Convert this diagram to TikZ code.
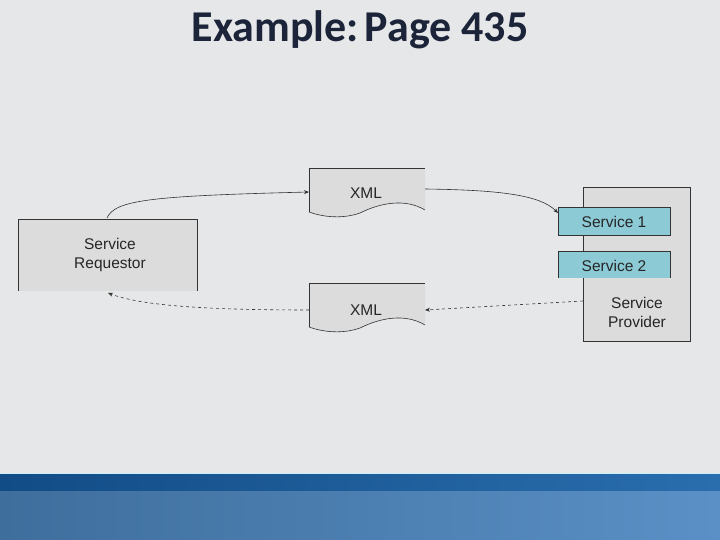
\documentclass[tikz,border=0pt]{standalone}
\usepackage{fontspec}
\setmainfont{Liberation Sans}
\newfontfamily\titlefont{Carlito}
\usetikzlibrary{arrows.meta}
\definecolor{bg}{HTML}{E6E7E8}
\definecolor{boxgray}{HTML}{DCDCDC}
\definecolor{svc}{HTML}{8CCAD6}
\definecolor{darkband}{HTML}{124C86}
\definecolor{darkband2}{HTML}{2A6EAE}
\definecolor{lightband}{HTML}{3E6E9C}
\definecolor{lightband2}{HTML}{5A90C6}
\definecolor{titlec}{HTML}{1B2438}
\tikzset{
 lbl/.style={font=\fontsize{15.5}{19}\selectfont, align=center, text=black!85},
 edge/.style={draw=black!80, line width=0.6pt},
 conn/.style={black!80, line width=0.6pt, -{Stealth[length=5pt,width=4pt]}},
}
\begin{document}
\begin{tikzpicture}[x=1pt,y=-1pt]
\useasboundingbox (0,0) rectangle (720,540);
\fill[bg] (0,0) rectangle (720,473);
\shade[left color=darkband, right color=darkband2] (0,473) rectangle (720,491);
\shade[left color=lightband, right color=lightband2] (0,491) rectangle (720,540);
\draw[white!80!cyan, line width=0.8pt] (0,473) -- (720,473);
\node[font=\titlefont\bfseries\fontsize{44}{46}\selectfont, text=titlec] (title) at (360,30) {Example:\kern-4pt\ Page 435};

% requestor
\fill[boxgray] (18,219) rectangle (197,291);
\draw[edge] (18,291) -- (18,219) -- (197,219) -- (197,291);
\node[lbl] (req) at (110,255) {Service\\Requestor};

% provider
\draw[edge, fill=boxgray] (583,187) rectangle (690,341);
\node[lbl] (prov) at (637,312) {Service\\Provider};
% service 1
\draw[edge, fill=svc] (558,207) rectangle (670,235);
\node[lbl] (s1) at (614,222) {Service 1};
% service 2
\fill[svc] (558,251) rectangle (670,278);
\draw[edge] (558,278) -- (558,251) -- (670,251) -- (670,278);
\node[lbl] (s2) at (614,266) {Service 2};

% XML docs
\foreach \y in {168,283}{
  \fill[boxgray] (309,\y) -- (425,\y) -- (425,\y+42) .. controls (405,\y+30) and (380,\y+35) .. (360,\y+45) .. controls (340,\y+52) and (320,\y+48) .. (309,\y+44) -- cycle;
  \draw[edge] (309,\y+44) -- (309,\y) -- (425,\y);
  \draw[edge] (425,\y+42) .. controls (405,\y+30) and (380,\y+35) .. (360,\y+45) .. controls (340,\y+52) and (320,\y+48) .. (309,\y+44);
}
\node[lbl] (xml1) at (366,193) {XML};
\node[lbl] (xml2) at (366,310) {XML};

\coordinate (reqtop) at (107,218);
\coordinate (reqbot) at (108,293);
\coordinate (x1l) at (309,192);
\coordinate (x1r) at (425,189);
\coordinate (x2l) at (309,310);
\coordinate (x2r) at (425,310);
\coordinate (s1l) at (558,213);
\coordinate (provl) at (583,301);

\draw[conn] (reqtop) .. controls (115,200) and (150,196) .. (x1l);
\draw[conn] (x1r) .. controls (500,190) and (540,195) .. (s1l);
\draw[conn, dashed] (provl) -- (x2r);
\draw[conn, dashed] (x2l) .. controls (200,310) and (140,305) .. (reqbot);
\end{tikzpicture}
\end{document}
